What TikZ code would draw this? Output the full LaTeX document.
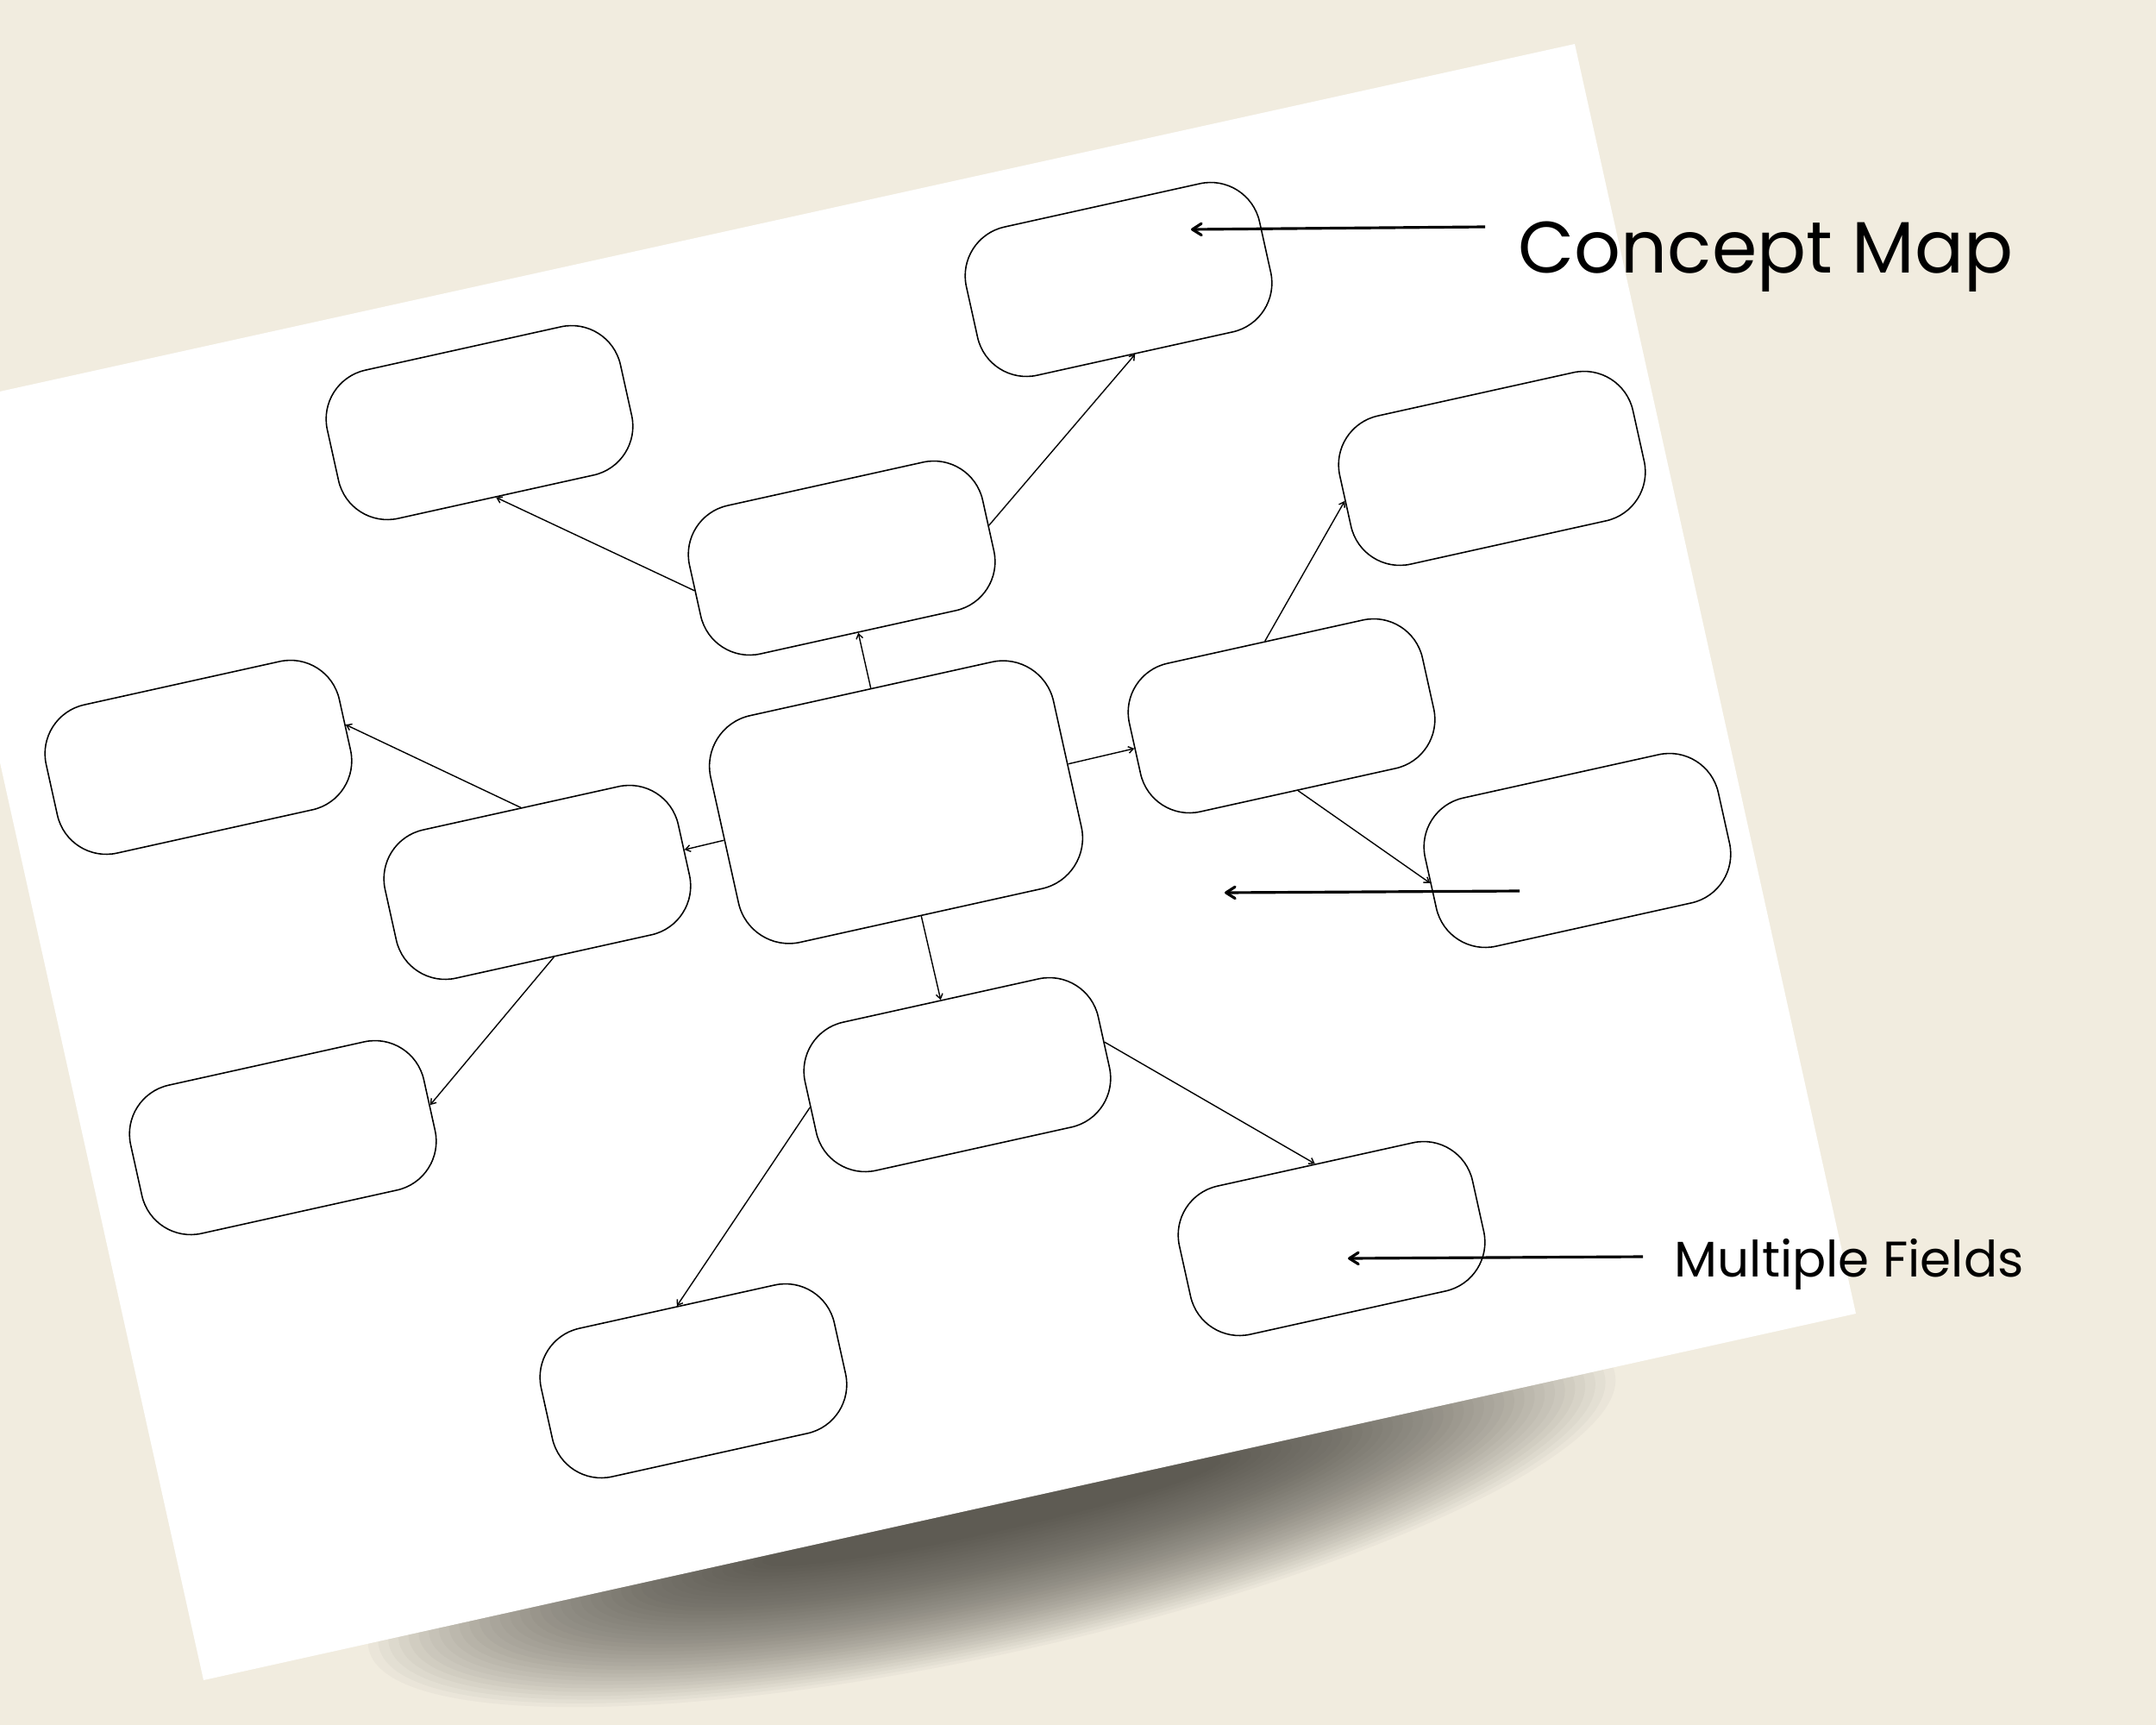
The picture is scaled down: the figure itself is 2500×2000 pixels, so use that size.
\documentclass[tikz,border=0pt]{standalone}
\usepackage{fontspec}
\setmainfont{Poppins}
\usetikzlibrary{arrows.meta}
\definecolor{deskback}{RGB}{241,236,223}
\definecolor{sheetshadow}{RGB}{62,60,54}

\begin{document}
\begin{tikzpicture}[x=0.01cm,y=-0.01cm,
  bubble/.style={draw,line width=0.45pt,rounded corners=0.58cm,minimum width=3.48cm,minimum height=1.76cm,inner sep=0pt,rotate=12.5},
  hub/.style={bubble,rounded corners=0.6cm,minimum width=4.07cm,minimum height=2.69cm},
  link/.style={line width=0.4pt,-{Straight Barb[length=1.6pt,width=2.2pt]}},
  pointer/.style={line width=0.9pt,-{Straight Barb[length=3pt,width=3.8pt,round]}}]
\useasboundingbox (0,0) rectangle (2500,2000);
\clip (0,0) rectangle (2500,2000);
\fill[deskback] (0,0) rectangle (2500,2000);

% soft shadow under the sheet
\foreach \k [evaluate=\k as \rx using 740-12*\k, evaluate=\k as \ry using 165-3.6*\k] in {0,...,39}
  \fill[sheetshadow,opacity=0.036,rotate around={12.5:(1150,1752)}] (1150,1752) ellipse [x radius=\rx, y radius=\ry];

% the sheet
\fill[white] (-91,474) -- (1826,51) -- (2152,1523) -- (236,1948) -- cycle;

% boxes
\node[hub] (core) at (1039,930) {};
\node[bubble] (n1) at (976,647) {};
\node[bubble] (n1a) at (1297,324) {};
\node[bubble] (n1b) at (556,490) {};
\node[bubble] (e1) at (1486,830) {};
\node[bubble] (e1a) at (1730,543) {};
\node[bubble] (e1b) at (1829,986) {};
\node[bubble] (w1) at (623,1023) {};
\node[bubble] (w1a) at (230,878) {};
\node[bubble] (w1b) at (328,1319) {};
\node[bubble] (s1) at (1110,1246) {};
\node[bubble] (s1a) at (1544,1436) {};
\node[bubble] (s1b) at (804,1601) {};

% links
\draw[link] (core.north) -- (n1.south);
\draw[link] (n1.east) -- (n1a.south);
\draw[link] (n1.west) -- (n1b.south);
\draw[link] (core.east) -- (e1.west);
\draw[link] (e1.north) -- (e1a.west);
\draw[link] (e1.south) -- (e1b.west);
\draw[link] (core.west) -- (w1.east);
\draw[link] (w1.north) -- (w1a.east);
\draw[link] (w1.south) -- (w1b.east);
\draw[link] (core.south) -- (s1.north);
\draw[link] (s1.east) -- (s1a.north);
\draw[link] (s1.west) -- (s1b.north);

% callouts
\node[anchor=base west,inner sep=0pt,font=\fontsize{24}{29}\selectfont] (maplabel) at (1760,317) {Concept Map};
\coordinate (maptail) at (1722,263);
\coordinate (maptip) at (1381,266);
\draw[pointer] (maptail) -- (maptip);

\coordinate (midtail) at (1762,1033);
\coordinate (midtip) at (1420,1035);
\draw[pointer] (midtail) -- (midtip);

\node[anchor=base west,inner sep=0pt,font=\fontsize{16.5}{20}\selectfont] (fieldlabel) at (1941,1480) {Multiple Fields};
\coordinate (fieldtail) at (1905,1457);
\coordinate (fieldtip) at (1563,1459);
\draw[pointer] (fieldtail) -- (fieldtip);
\end{tikzpicture}
\end{document}
